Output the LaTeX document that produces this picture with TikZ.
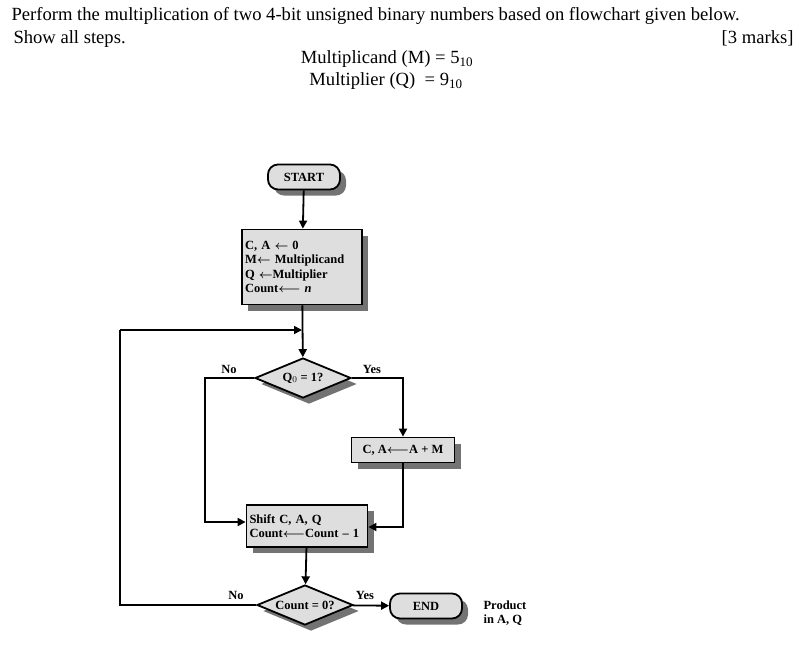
\documentclass[tikz,border=0pt]{standalone}
\usepackage{amsmath,amssymb}
\usepackage{fontspec}
\setmainfont{Liberation Serif}
\usetikzlibrary{shapes.geometric,arrows.meta,shadows}
\newcommand{\mylarr}{$\boldsymbol\leftarrow$}
\newcommand{\myLarr}{$\boldsymbol\longleftarrow$}
\begin{document}
\begin{tikzpicture}[x=1pt,y=-1pt,
  base/.style={draw=black,line width=1.8pt,fill=black!13,
     drop shadow={shadow xshift=6pt,shadow yshift=-6pt,fill=black!55,opacity=1},
     font=\fontsize{12.5}{14.5}\selectfont\bfseries,inner sep=2pt},
  term/.style={base,rounded corners=10pt,minimum height=25pt},
  box/.style={base,rectangle,align=left},
  dec/.style={base,diamond,aspect=2.4,inner sep=0pt},
  arr/.style={line width=1.8pt,-{Triangle[length=8pt,width=8pt]}},
  ln/.style={line width=1.8pt},
  lab/.style={font=\fontsize{12.5}{14.5}\selectfont\bfseries}]
\useasboundingbox (0,0) rectangle (802,648);
\node[anchor=base west,font=\fontsize{18.6}{21}\selectfont] (t1) at (8,20) {Perform the multiplication of two 4-bit unsigned binary numbers based on flowchart given below.};
\node[anchor=base west,font=\fontsize{18.6}{21}\selectfont] (t2) at (10,43) {Show all steps.};
\node[anchor=base east,font=\fontsize{18.6}{21}\selectfont] (t3) at (797,43) {[3 marks]};
\node[font=\fontsize{18.6}{21}\selectfont] (t4) at (387,59) {Multiplicand (M) = 5\textsubscript{10}};
\node[font=\fontsize{18.6}{21}\selectfont] (t5) at (386,81) {Multiplier (Q) \ = 9\textsubscript{10}};

\node[term,minimum width=72pt] (start) at (304,177) {START};
\node[box,minimum width=120pt,minimum height=75pt,text width=114pt] (init) at (302,267)
  {C, A \mylarr\ 0\\M\mylarr\ Multiplicand\\Q \mylarr Multiplier\\Count\myLarr\ \textit{n}};
\node[dec,minimum width=96pt,minimum height=40pt] (q0) at (303,378) {Q$_0$ = 1?};
\node[box,minimum width=103pt,minimum height=25pt] (add) at (403,450) {C, A\myLarr A + M};
\node[box,minimum width=121pt,minimum height=42pt,text width=115pt] (shift) at (307,526) {Shift C, A, Q\\Count\myLarr Count -- 1};
\node[dec,minimum width=96pt,minimum height=40pt] (cnt) at (305,605) {Count = 0?};
\node[term,minimum width=72pt] (end) at (426,606) {END};
\node[lab,align=left,anchor=west] (prod) at (480,613) {Product\\in A, Q};
\coordinate (j) at (302,330);
\coordinate (lt) at (120,330);
\coordinate (lb) at (120,605);

\draw[arr] (start) -- (init);
\draw[arr] (init) -- (q0);
\draw[arr] (q0.west) -| (205,522) -- (shift.west |- 0,522);
\draw[arr] (q0.east) -| (add.north);
\draw[arr] (add.south) |- (shift.east |- 0,527);
\draw[arr] (shift) -- (cnt);
\draw[arr] (cnt) -- (end);
\draw[ln] (cnt.west) -- (lb) -- (lt);
\draw[arr] (lt) -- (j);
\node[lab] (n1) at (229,369) {No};
\node[lab] (y1) at (372,369) {Yes};
\node[lab] (n2) at (236,595) {No};
\node[lab] (y2) at (365,595) {Yes};
\end{tikzpicture}
\end{document}
